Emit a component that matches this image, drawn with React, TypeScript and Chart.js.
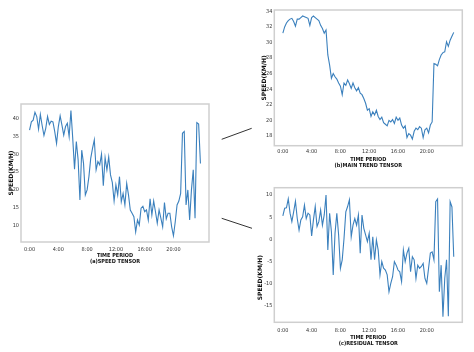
import React, { useEffect, useRef } from 'react';
import { Chart, registerables } from 'chart.js';

Chart.register(...registerables);

// ---------- data ----------
const HOURS = [
  0, 0.25, 0.5, 0.75, 1, 1.25, 1.5, 1.75, 2, 2.25, 2.5, 2.75,
  3, 3.25, 3.5, 3.75, 4, 4.25, 4.5, 4.75, 5, 5.25, 5.5, 5.75,
  6, 6.25, 6.5, 6.75, 7, 7.25, 7.5, 7.75, 8, 8.25, 8.5, 8.75,
  9, 9.25, 9.5, 9.75, 10, 10.25, 10.5, 10.75, 11, 11.25, 11.5, 11.75,
  12, 12.25, 12.5, 12.75, 13, 13.25, 13.5, 13.75, 14, 14.25, 14.5, 14.75,
  15, 15.25, 15.5, 15.75, 16, 16.25, 16.5, 16.75, 17, 17.25, 17.5, 17.75,
  18, 18.25, 18.5, 18.75, 19, 19.25, 19.5, 19.75, 20, 20.25, 20.5, 20.75,
  21, 21.25, 21.5, 21.75, 22, 22.25, 22.5, 22.75, 23, 23.25, 23.5, 23.75,
];

const SPEED = [
  36.7, 39, 39.5, 41.7,
  40.5, 37, 41.1, 38,
  35.2, 37.2, 40.5, 38.3,
  39.2, 39, 36.3, 33,
  37.7, 40.7, 38.1, 35.3,
  37.7, 38.6, 34.9, 42.2,
  34.4, 25.8, 33.5, 28.4,
  17.2, 31.1, 27.4, 18.6,
  20, 23.7, 28.8, 31.6,
  34, 25.6, 27.9, 27,
  30, 21.2, 29, 25.6,
  29.2, 24.2, 22.1, 16.9,
  21.4, 18.6, 23.7, 16.7,
  19, 15.8, 21.8, 18.6,
  14.4, 13.5, 12.5, 8.3,
  11.6, 10.2, 14.9, 15.4,
  13.9, 14.4, 11.6, 17.5,
  13, 16.9, 13.9, 10.7,
  14.4, 12.1, 9.7, 16.5,
  11.9, 13.5, 13.5, 9.7,
  7.2, 11.1, 15.8, 16.9,
  19, 35.8, 36.3, 15.8,
  20, 11.6, 20, 25.6,
  12.1, 38.8, 38.4, 27.4,
];

const TREND = [
  31.2, 32, 32.5, 32.8,
  33, 33.1, 32.7, 32.1,
  33, 33, 33.2, 33.4,
  33.3, 33.2, 33.1, 32.2,
  33.2, 33.4, 33.2, 33,
  32.8, 32.2, 31.8, 31.2,
  31.6, 28.4, 27.1, 25.4,
  26, 25.6, 25.3, 24.8,
  24.4, 23.3, 24.8, 24.5,
  25.2, 24.7, 24.1, 24.8,
  24.2, 23.8, 24.2, 23.5,
  23.3, 22.8, 22.2, 21.3,
  21.5, 20.5, 21.1, 20.7,
  21.3, 20.5, 20.1, 20.4,
  19.7, 19.5, 19.3, 20,
  19.8, 20.1, 19.6, 20.4,
  20, 20.3, 19.4, 19,
  19.3, 17.8, 18.3, 18.1,
  17.6, 18.6, 19, 18.8,
  19.2, 19, 17.8, 18.8,
  19, 18.4, 19.4, 19.8,
  27.3, 27.2, 27, 27.8,
  28.4, 28.7, 28.8, 30.1,
  29.5, 30.3, 30.8, 31.3,
];

const RESIDUAL = [
  5.3, 7, 7.1, 9.1,
  5.9, 4, 6.2, 8.6,
  4.7, 2.1, 4.4, 5.1,
  7.7, 4.7, 5.9, 5.5,
  0.8, 4.4, 7.4, 2.9,
  4, 6.6, 3.2, 5.5,
  10, -2.4, 5.9, 1.7,
  -8, 1.4, 5.9, 1,
  -6.5, -4.6, 0.2, 6.2,
  7.4, 8.9, 0.6, 3.2,
  4.7, 3.2, 5.5, -3.1,
  5.5, 2.5, 1, -0.5,
  1.4, -4.6, 0.6, -4.6,
  -0.1, -2.4, -8, -5,
  -6.5, -6.9, -8, -11.8,
  -9.9, -8.4, -5, -5.8,
  -6.9, -7.3, -9.5, -2.4,
  -5, -3.1, -2, -7.3,
  -3.9, -4.6, -8.8, -5.8,
  -6.5, -6.1, -5.4, -8.8,
  -9.9, -6.5, -3.1, -2.8,
  -4.6, 8.5, 9.1, -11.8,
  -5.8, -17.4, -8.8, -4.6,
  -17.3, 8.5, 7.3, -3.9,
];

const X_TICKS = [0, 4, 8, 12, 16, 20];
const X_TICK_LABELS = ['0:00', '4:00', '8:00', '12:00', '16:00', '20:00'];
const Y_TICKS_A = [10, 15, 20, 25, 30, 35, 40];
const Y_TICKS_B = [18, 20, 22, 24, 26, 28, 30, 32, 34];
const Y_TICKS_C = [-15, -10, -5, 0, 5, 10];
const X_TITLE = 'TIME PERIOD';
const Y_TITLE = 'SPEED(KM/H)';
const SUBTITLES = ['(a)SPEED TENSOR', '(b)MAIN TREND TENSOR', '(c)RESIDUAL TENSOR'];

// ---------- styling ----------
const NARROW = '"Liberation Sans Narrow", "DejaVu Sans Condensed", "Arial Narrow", "Liberation Sans", sans-serif';
const LINE_COLOR = '#3b80bd';
const FRAME_COLOR = '#cfcfcf';

const framePlugin = {
  id: 'frameBox',
  beforeDatasetsDraw(chart: any) {
    const { ctx, chartArea } = chart;
    ctx.save();
    ctx.strokeStyle = FRAME_COLOR;
    ctx.lineWidth = 1.5;
    ctx.strokeRect(chartArea.left, chartArea.top, chartArea.right - chartArea.left, chartArea.bottom - chartArea.top);
    ctx.restore();
  },
};

const yLabelPlugin = {
  id: 'yLabel',
  afterDraw(chart: any, _args: any, opts: any) {
    const { ctx, chartArea } = chart;
    ctx.save();
    ctx.translate(chartArea.left - opts.offset, (chartArea.top + chartArea.bottom) / 2 + opts.dy);
    ctx.rotate(-Math.PI / 2);
    ctx.font = 'bold 6px "DejaVu Sans", sans-serif';
    ctx.fillStyle = '#111';
    ctx.textAlign = 'center';
    ctx.textBaseline = 'middle';
    ctx.fillText(opts.text, 0, 0);
    ctx.restore();
  },
};

type Geo = {
  left: number; top: number; w: number; h: number;
  padTop: number; padRight: number; yW: number; xH: number;
  yMin: number; yMax: number; yTicks: number[];
  tickPad: number; labelOffset: number; labelDy: number;
};

function makeConfig(values: number[], subtitle: string, g: Geo): any {
  return {
    type: 'line',
    data: {
      datasets: [{
        data: HOURS.map((hr, i) => ({ x: hr, y: values[i] })),
        borderColor: LINE_COLOR,
        borderWidth: 1.1,
        pointRadius: 0,
        tension: 0,
        fill: false,
      }],
    },
    options: {
      animation: false,
      responsive: false,
      devicePixelRatio: 1,
      layout: { padding: { top: g.padTop, right: g.padRight, left: 0, bottom: 0 } },
      plugins: {
        legend: { display: false },
        tooltip: { enabled: false },
        yLabel: { text: Y_TITLE, offset: g.labelOffset, dy: g.labelDy },
      },
      scales: {
        x: {
          type: 'linear',
          min: -1.19,
          max: 24.94,
          afterBuildTicks: (s: any) => { s.ticks = X_TICKS.map((v) => ({ value: v })); },
          afterFit: (s: any) => { s.height = g.xH; },
          grid: { display: false, drawTicks: false },
          border: { display: false },
          ticks: {
            autoSkip: false,
            maxRotation: 0,
            padding: g.tickPad,
            color: '#333',
            font: { family: NARROW, size: 5.5 },
            callback: (v: number) => {
              const k = X_TICKS.indexOf(v);
              return k >= 0 ? X_TICK_LABELS[k] : '';
            },
          },
          title: {
            display: true,
            text: [X_TITLE, subtitle],
            color: '#111',
            padding: { top: 0, bottom: 0 },
            font: { family: NARROW, size: 5.5, weight: 'bold', lineHeight: 1.2 },
          },
        },
        y: {
          type: 'linear',
          min: g.yMin,
          max: g.yMax,
          afterBuildTicks: (s: any) => { s.ticks = g.yTicks.map((v) => ({ value: v })); },
          afterFit: (s: any) => { s.width = g.yW; },
          grid: { display: false, drawTicks: false },
          border: { display: false },
          ticks: {
            padding: 2,
            color: '#333',
            font: { family: NARROW, size: 5.5 },
            callback: (v: number) => String(v),
          },
        },
      },
    },
    plugins: [framePlugin, yLabelPlugin],
  };
}

const GEO_A: Geo = { left: 0, top: 90, w: 255, h: 175, padTop: 14, padRight: 46, yW: 21, xH: 23, yMin: 5.45, yMax: 44, yTicks: Y_TICKS_A, tickPad: 4.5, labelOffset: 9.3, labelDy: 0 };
const GEO_B: Geo = { left: 255, top: 0, w: 219, h: 169, padTop: 10, padRight: 11.7, yW: 19.3, xH: 23.3, yMin: 16.75, yMax: 34.17, yTicks: Y_TICKS_B, tickPad: 2.7, labelOffset: 10, labelDy: 0 };
const GEO_C: Geo = { left: 255, top: 175, w: 219, h: 172, padTop: 12.7, padRight: 11.7, yW: 19.3, xH: 24.7, yMin: -18.67, yMax: 11.64, yTicks: Y_TICKS_C, tickPad: 4.5, labelOffset: 14, labelDy: 22.7 };

function Panel({ values, subtitle, geo }: { values: number[]; subtitle: string; geo: Geo }) {
  const ref = useRef<HTMLCanvasElement | null>(null);
  useEffect(() => {
    if (!ref.current) return;
    const chart = new Chart(ref.current, makeConfig(values, subtitle, geo));
    return () => chart.destroy();
  }, [values, subtitle, geo]);
  return (
    <canvas
      ref={ref}
      width={geo.w}
      height={geo.h}
      style={{ position: 'absolute', left: geo.left, top: geo.top, width: geo.w, height: geo.h }}
    />
  );
}

export default function App() {
  return (
    <div style={{ position: 'fixed', left: 0, top: 0, width: 474, height: 352, background: '#fff', overflow: 'hidden' }}>
      <Panel values={SPEED} subtitle={SUBTITLES[0]} geo={GEO_A} />
      <Panel values={TREND} subtitle={SUBTITLES[1]} geo={GEO_B} />
      <Panel values={RESIDUAL} subtitle={SUBTITLES[2]} geo={GEO_C} />
      <svg width={474} height={352} style={{ position: 'absolute', left: 0, top: 0, pointerEvents: 'none' }}>
        <line x1={221.7} y1={139.3} x2={251.7} y2={128.3} stroke="#333" strokeWidth={1} />
        <line x1={221.7} y1={218.3} x2={252} y2={228.3} stroke="#333" strokeWidth={1} />
      </svg>
    </div>
  );
}
